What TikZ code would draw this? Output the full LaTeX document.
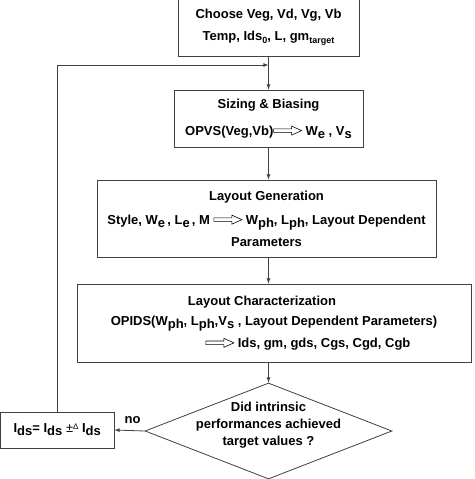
\documentclass[tikz,border=0pt]{standalone}
\usepackage{fontspec}
\setmainfont{Liberation Sans}
\usetikzlibrary{shapes.geometric,arrows,positioning}
\tikzset{
block/.style={
  draw=black!75,
  line width=0.8pt,
  rectangle,
  align=center,
  inner sep=0pt,
  font=\fontsize{13}{22}\selectfont\bfseries
  },
decision/.style={
  draw=black!75,
  line width=0.8pt,
  diamond,
  inner sep=0pt,
  minimum width=247pt,
  minimum height=96pt
  },
line/.style={draw=black!75, line width=0.8pt}
}
% lowered subscript and hollow arrow
\newcommand{\dn}[1]{\raisebox{-0.45ex}{#1}}
\newcommand{\warr}{\tikz[baseline={(0pt,-4.5pt)}]\draw[line width=0.6pt,black] (0pt,1.8pt) -- (18pt,1.8pt) -- (18pt,4.5pt) -- (28pt,0pt) -- (18pt,-4.5pt) -- (18pt,-1.8pt) -- (0pt,-1.8pt) -- cycle;}

\begin{document}
\begin{tikzpicture}[x=1pt, y=-1pt, >=latex]
\useasboundingbox (0,0) rectangle (474,479);
\node[block, minimum width=181pt, minimum height=57pt] (choose) at (268.5,27.5)
  {Choose Veg, Vd, Vg, Vb\\Temp, Ids\dn{\small 0}, L, gm\dn{\small target}};
\node[block, minimum width=189pt, minimum height=57pt] (sizing) at (268.5,118.5)
  {Sizing \& Biasing\\[5pt]OPVS(Veg,Vb)\warr\ W\dn{e} , V\dn{s}};
\node[block, minimum width=339pt, minimum height=77pt] (layout) at (266.5,218.5)
  {Layout Generation\\[2pt]Style, W\dn{e}\,, L\dn{e}\,, M \warr\ W\dn{ph}, L\dn{ph}, Layout Dependent\\Parameters};
\node[block, minimum width=394pt, minimum height=78pt] (charac) at (274,323)
  {Layout Characterization\hspace*{24pt}\\[-2pt]OPIDS(W\dn{ph}, L\dn{ph},V\dn{s} , Layout Dependent Parameters)\\\hspace*{68pt}\warr\ Ids, gm, gds, Cgs, Cgd, Cgb};
\node[decision, label={[align=center, font=\fontsize{13}{17}\selectfont\bfseries, yshift=6pt]center:{Did intrinsic\\performances achieved\\target values ?}}] (check) at (268.5,431) {};
\node[block, minimum width=113.5pt, minimum height=36pt] (update) at (57.25,430)
  {I\dn{ds}= I\dn{ds} {\mdseries ±\raisebox{0.5ex}{\footnotesize Δ}} I\dn{ds}};
\coordinate (merge) at (268.5,65);

\path[line,->] (choose) -- (sizing);
\path[line,->] (sizing) -- (sizing |- layout.north);
\path[line,->] (sizing |- layout.south) -- (sizing |- charac.north);
\path[line,->] (sizing |- charac.south) -- (check.north);
\path[line,->] (check.west) -- node[above=3pt, pos=0.4, font=\fontsize{13}{15}\selectfont\bfseries] {no} (update.east);
\path[line,->] (update.north) |- (merge);
\end{tikzpicture}
\end{document}
